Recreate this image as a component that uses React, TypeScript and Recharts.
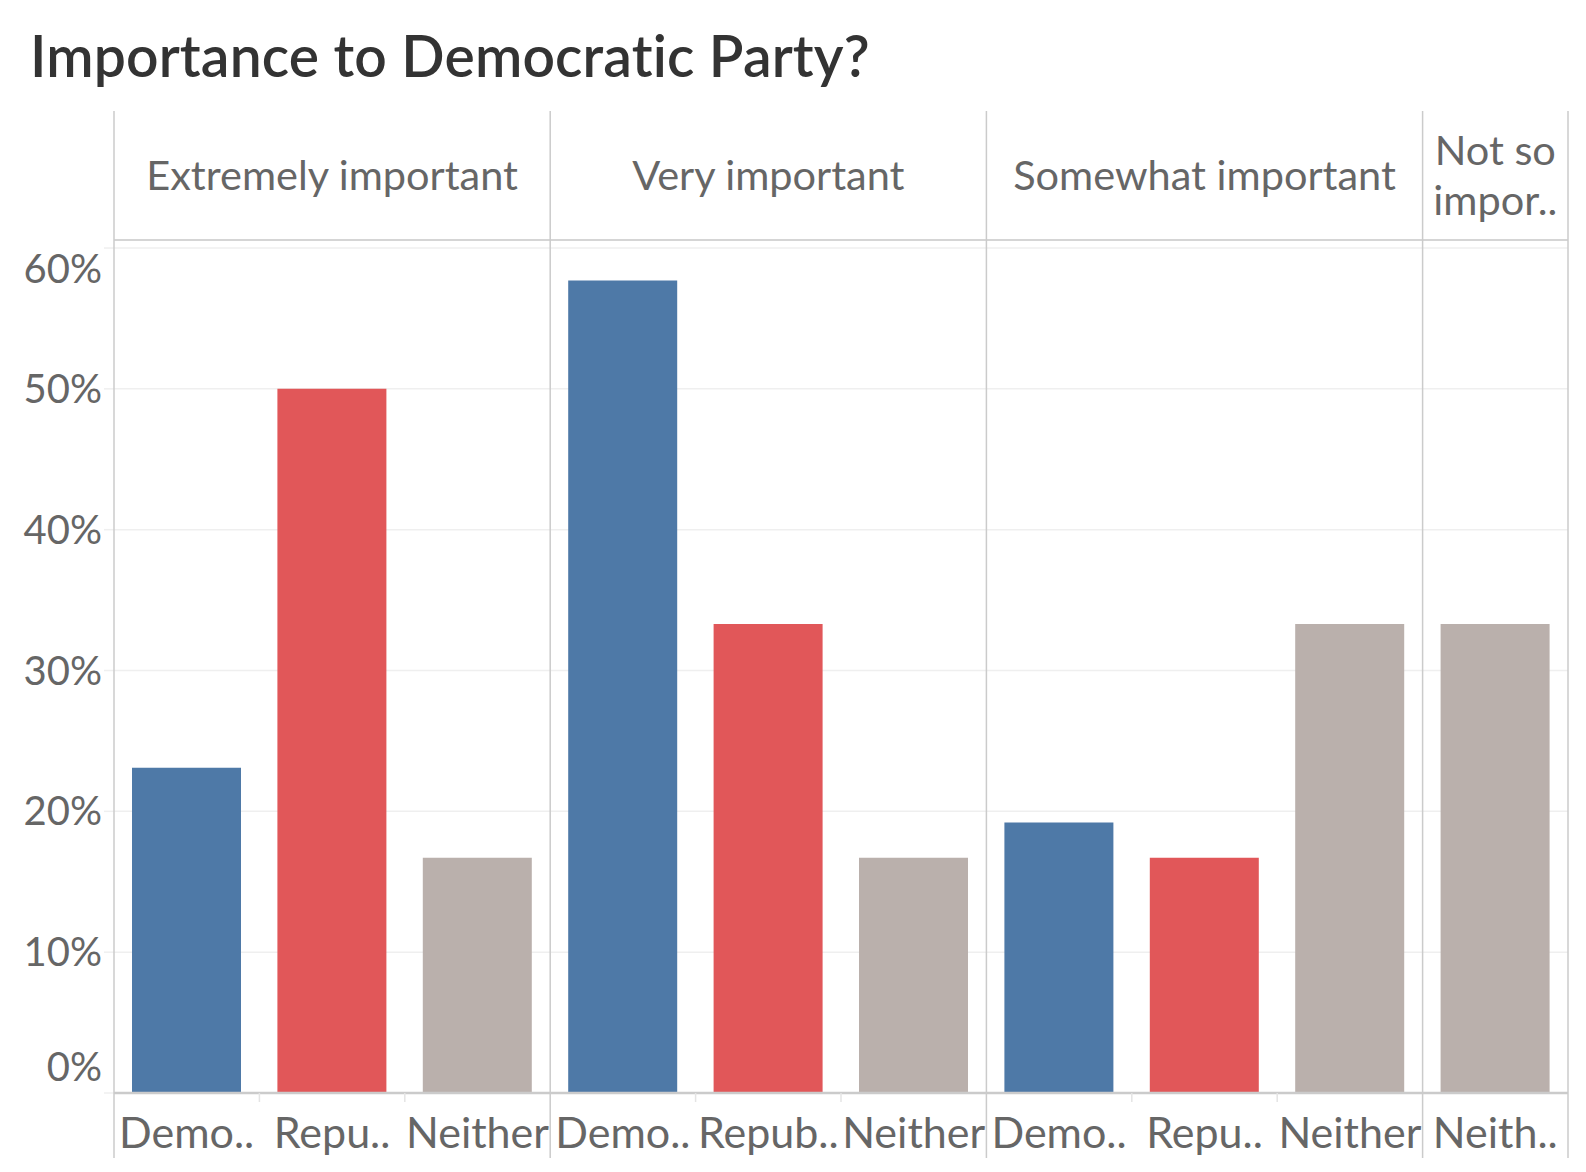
import { BarChart, Bar, XAxis, YAxis, CartesianGrid, Cell } from "recharts";

// importance groups (panels) and how Tableau shows their headers
const groups = ["Extremely important", "Very important", "Somewhat important", "Not so important"];
const groupHeaders = [["Extremely important"], ["Very important"], ["Somewhat important"], ["Not so", "impor.."]];

// one row per bar
const rowGroup = [0, 0, 0, 1, 1, 1, 2, 2, 2, 3];
const rowParty = ["Democrat", "Republican", "Neither", "Democrat", "Republican", "Neither", "Democrat", "Republican", "Neither", "Neither"];
const rowLabel = ["Demo..", "Repu..", "Neither", "Demo..", "Repub..", "Neither", "Demo..", "Repu..", "Neither", "Neith.."];
const shares = [23.1, 50.0, 16.7, 57.7, 33.3, 16.7, 19.2, 16.7, 33.3, 33.3];

const yTicks = [0, 10, 20, 30, 40, 50, 60];

const partyColors: Record<string, string> = {
  Democrat: "#4e79a7",
  Republican: "#e15759",
  Neither: "#bab0ac",
};

const data = shares.map((v, i) => ({
  id: groups[rowGroup[i]] + "|" + rowParty[i] + "|" + i,
  party: rowParty[i],
  share: v,
}));

// layout
const W = 1586;
const H = 1172;
const HEADER_TOP = 111;
const PLOT_TOP = 240;
const PLOT_BOTTOM = 1093;
const FOOT_BOTTOM = 1158;
const Y_W = 114;
const RIGHT = 18;
const BW = (W - Y_W - RIGHT) / data.length;
const FONT = "Lato, 'Noto Sans', sans-serif";
const LINE = "#cbcbcb";
const TXT = "#666666";

const YTick = (props: any) => {
  const { x, y, payload } = props;
  let dy = 0;
  if (payload.value === 60) dy = 21;
  if (payload.value === 0) dy = -26;
  return (
    <text x={x} y={y + dy + 14} textAnchor="end" fill={TXT} fontSize={40} fontFamily={FONT}>
      {payload.value}%
    </text>
  );
};

const HeaderTick = (props: any) => {
  const { x, index } = props;
  const g = rowGroup[index];
  const first = index === 0 || rowGroup[index - 1] !== g;
  const last = index === data.length - 1;
  const count = rowGroup.filter((r) => r === g).length;
  const cx = x - BW / 2 + (count * BW) / 2;
  const lines = groupHeaders[g];
  const mid = (HEADER_TOP + PLOT_TOP) / 2;
  return (
    <g>
      {first && <line x1={x - BW / 2} x2={x - BW / 2} y1={HEADER_TOP} y2={FOOT_BOTTOM} stroke={LINE} strokeWidth={1.5} />}
      {last && <line x1={x + BW / 2} x2={x + BW / 2} y1={HEADER_TOP} y2={FOOT_BOTTOM} stroke={LINE} strokeWidth={1.5} />}
      {first &&
        lines.map((t, k) => (
          <text
            key={k}
            x={cx}
            y={mid + 14 + (k - (lines.length - 1) / 2) * 50}
            textAnchor="middle"
            fill={TXT}
            fontSize={41.5}
            fontFamily={FONT}
          >
            {t}
          </text>
        ))}
    </g>
  );
};

const FootTick = (props: any) => {
  const { x, index } = props;
  const first = index === 0 || rowGroup[index - 1] !== rowGroup[index];
  return (
    <g>
      {!first && <line x1={x - BW / 2} x2={x - BW / 2} y1={PLOT_BOTTOM} y2={PLOT_BOTTOM + 9} stroke="#e4e4e4" strokeWidth={1.5} />}
      <text x={x} y={PLOT_BOTTOM + 55} textAnchor="middle" fill={TXT} fontSize={43} fontFamily={FONT}>
        {rowLabel[index]}
      </text>
    </g>
  );
};

export default function App() {
  return (
    <div style={{ position: "fixed", left: 0, top: 0, width: W, height: H, background: "#fff" }}>
      <div
        style={{
          position: "absolute",
          left: 30,
          top: 20,
          fontFamily: FONT,
          fontSize: 57,
          fontWeight: 600,
          letterSpacing: 0.15,
          color: "#333333",
          lineHeight: "70px",
          whiteSpace: "nowrap",
        }}
      >
        Importance to Democratic Party?
      </div>
      <div style={{ position: "absolute", left: 0, top: 0 }}>
        <BarChart
          width={W}
          height={H}
          data={data}
          margin={{ top: HEADER_TOP, right: RIGHT, bottom: 0, left: 0 }}
          barCategoryGap={18}
        >
          <CartesianGrid horizontal vertical={false} stroke="#efefef" strokeWidth={1.5} />
          <XAxis
            xAxisId="top"
            orientation="top"
            dataKey="id"
            height={PLOT_TOP - HEADER_TOP}
            tickLine={false}
            tickSize={0}
            axisLine={{ stroke: LINE, strokeWidth: 1.5 }}
            interval={0}
            tick={<HeaderTick />}
          />
          <XAxis
            dataKey="id"
            height={H - PLOT_BOTTOM}
            tickLine={false}
            tickSize={0}
            axisLine={{ stroke: LINE, strokeWidth: 2.5 }}
            interval={0}
            tick={<FootTick />}
          />
          <YAxis
            width={Y_W}
            domain={[0, 60.57]}
            ticks={yTicks}
            tickSize={10}
            tickMargin={2}
            tickLine={{ stroke: "#efefef", strokeWidth: 1.5 }}
            axisLine={false}
            tick={<YTick />}
            allowDataOverflow
          />
          <Bar dataKey="share" isAnimationActive={false}>
            {data.map((d, i) => (
              <Cell key={i} fill={partyColors[d.party]} />
            ))}
          </Bar>
        </BarChart>
      </div>
    </div>
  );
}
